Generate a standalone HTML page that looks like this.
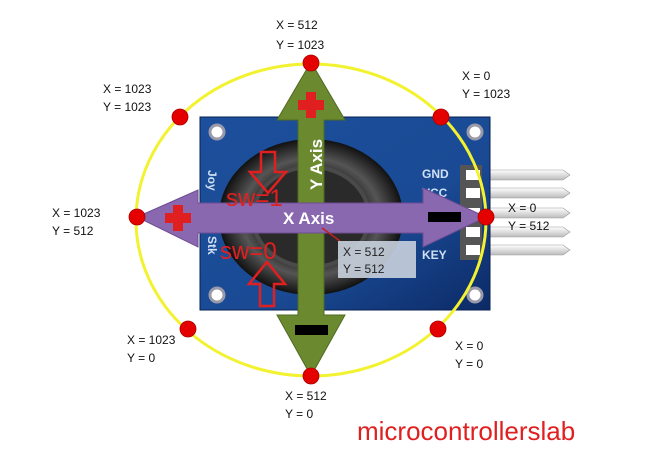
<!DOCTYPE html>
<html><head><meta charset="utf-8"><style>
html,body{margin:0;padding:0;background:#fff}
svg{display:block}
text{font-family:"Liberation Sans",sans-serif}
</style></head><body>
<svg width="650" height="458" viewBox="0 0 650 458" xmlns="http://www.w3.org/2000/svg">
<defs>
<linearGradient id="bd" x1="0" y1="0" x2="1" y2="1">
<stop offset="0" stop-color="#1c4f9c"/><stop offset="0.6" stop-color="#1a4a94"/><stop offset="1" stop-color="#0c2a66"/></linearGradient>
<radialGradient id="js" cx="0.5" cy="0.5" r="0.5">
<stop offset="0" stop-color="#3a3a3a"/><stop offset="0.55" stop-color="#222"/><stop offset="0.75" stop-color="#555"/><stop offset="1" stop-color="#111"/></radialGradient>
<linearGradient id="pin" x1="0" y1="0" x2="0" y2="1"><stop offset="0" stop-color="#fff"/><stop offset="1" stop-color="#bbb"/></linearGradient>
</defs>
<g fill="url(#pin)" stroke="#999" stroke-width="0.6">
<path d="M470 170 H563 L570 175 L563 180 H470Z"/>
<path d="M470 188 H563 L570 193 L563 198 H470Z"/>
<path d="M470 208 H563 L570 213 L563 218 H470Z"/>
<path d="M470 227 H563 L570 232 L563 237 H470Z"/>
<path d="M470 245 H563 L570 250 L563 255 H470Z"/>
</g>
<rect x="200" y="117" width="290" height="193" fill="url(#bd)" stroke="#0a2050"/>
<g fill="#fff" stroke="#99a" stroke-width="3">
<circle cx="217" cy="132" r="7"/><circle cx="475" cy="132" r="7"/>
<circle cx="217" cy="295" r="7"/><circle cx="475" cy="295" r="7"/>
</g>
<rect x="460" y="165" width="22" height="95" fill="#555"/>
<g fill="#fff"><rect x="466" y="170" width="14" height="10"/><rect x="466" y="188" width="14" height="10"/><rect x="466" y="208" width="14" height="10"/><rect x="466" y="227" width="14" height="10"/><rect x="466" y="245" width="14" height="10"/></g>
<text x="422" y="178" fill="#cfe0f5" font-size="12" font-weight="bold">GND</text>
<text x="422" y="197" fill="#cfe0f5" font-size="12" font-weight="bold">VCC</text>
<text x="422" y="259" fill="#cfe0f5" font-size="12" font-weight="bold">KEY</text>
<text x="0" y="0" fill="#cfe0f5" font-size="12" font-weight="bold" transform="translate(208,170) rotate(90)">Joy</text>
<text x="0" y="0" fill="#cfe0f5" font-size="12" font-weight="bold" transform="translate(208,236) rotate(90)">Stk</text>
<ellipse cx="311" cy="217" rx="92" ry="78" fill="url(#js)"/>
<ellipse cx="311" cy="217" rx="58" ry="50" fill="#2a2a2a" stroke="#4a4a4a" stroke-width="4"/>
<ellipse cx="311" cy="220" rx="175" ry="156" fill="none" stroke="#f2f230" stroke-width="3"/>
<path d="M311 62 L345 120 L324 120 L324 315 L345 315 L311 376 L277 315 L298 315 L298 120 L277 120Z" fill="#6b8a2f" stroke="#4e6a20"/>
<path d="M137 217 L198 190 L198 203 L423 203 L423 188 L486 217 L423 247 L423 233 L198 233 L198 247Z" fill="#8a68b0" stroke="#6d4d93"/>
<path d="M306 92 h10 v8 h8 v10 h-8 v8 h-10 v-8 h-8 v-10 h8z" fill="#e02020"/>
<path d="M173 205 h10 v8 h8 v10 h-8 v8 h-10 v-8 h-8 v-10 h8z" fill="#e02020"/>
<rect x="428" y="212" width="33" height="10" fill="#000"/>
<rect x="295" y="325" width="33" height="10" fill="#000"/>
<text x="0" y="0" fill="#fff" font-size="17" font-weight="bold" transform="translate(322,190) rotate(-90)">Y Axis</text>
<text x="283" y="224" fill="#fff" font-size="17" font-weight="bold">X Axis</text>
<path d="M261 152 h14 v20 h11 l-18 21 l-18 -21 h11z" fill="none" stroke="#e02020" stroke-width="2.5"/>
<path d="M260 306 h14 v-22 h11 l-18 -22 l-18 22 h11z" fill="none" stroke="#e02020" stroke-width="2.5"/>
<text x="226" y="206" fill="#e02020" font-size="24">sw=1</text>
<text x="220" y="259" fill="#e02020" font-size="24">sw=0</text>
<line x1="322" y1="228" x2="340" y2="241" stroke="#c02020" stroke-width="1.5"/>
<rect x="338" y="241" width="78" height="37" fill="#c9d2de" opacity="0.9"/>
<text x="343" y="256" font-size="12" fill="#222">X = 512</text>
<text x="343" y="273" font-size="12" fill="#222">Y = 512</text>
<g fill="#e50000" stroke="#a00" stroke-width="0.8">
<circle cx="311" cy="63" r="8"/><circle cx="311" cy="376" r="8"/>
<circle cx="137" cy="217" r="8"/><circle cx="486" cy="217" r="8"/>
<circle cx="180" cy="117" r="8"/><circle cx="441" cy="117" r="8"/>
<circle cx="188" cy="329" r="8"/><circle cx="438" cy="329" r="8"/>
</g>
<g font-size="12" fill="#111">
<text x="276" y="29">X = 512</text><text x="276" y="49">Y = 1023</text>
<text x="103" y="93">X = 1023</text><text x="103" y="111">Y = 1023</text>
<text x="462" y="80">X = 0</text><text x="462" y="98">Y = 1023</text>
<text x="52" y="217">X = 1023</text><text x="52" y="235">Y = 512</text>
<text x="508" y="212">X = 0</text><text x="508" y="230">Y = 512</text>
<text x="127" y="344">X = 1023</text><text x="127" y="362">Y = 0</text>
<text x="455" y="350">X = 0</text><text x="455" y="368">Y = 0</text>
<text x="285" y="400">X = 512</text><text x="285" y="418">Y = 0</text>
</g>
<text x="357" y="440" fill="#e02020" font-size="26">microcontrollerslab</text>
</svg>
</body></html>
